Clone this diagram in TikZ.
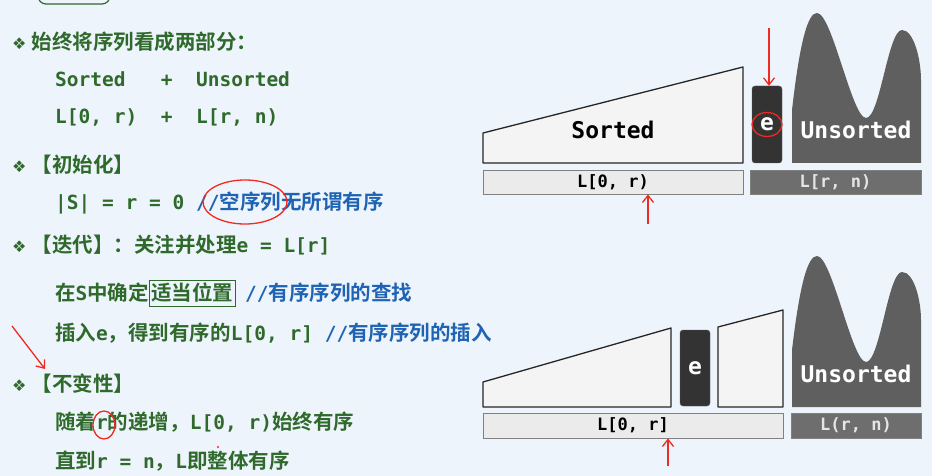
\documentclass[tikz,border=0pt]{standalone}
\usepackage{fontspec}
\newfontfamily\cjk{Noto Sans CJK SC}[BoldFont={Noto Sans CJK SC Bold}]
\newfontfamily\mono{DejaVu Sans Mono}
\newfontfamily\sym{DejaVu Sans}
\usetikzlibrary{positioning, arrows.meta}
\definecolor{bg}{HTML}{EEF4FB}
\definecolor{txtgreen}{HTML}{2F6A2C}
\definecolor{txtblue}{HTML}{1F64B4}
\definecolor{darkbox}{HTML}{333333}
\definecolor{unsorted}{HTML}{5F5F5F}
\definecolor{lightfill}{HTML}{F4F4F4}
\definecolor{barlight}{HTML}{EBEBEB}
\definecolor{bardark}{HTML}{6E6E6E}
\definecolor{pen}{HTML}{F02A20}
\newcommand{\m}[1]{{\mono\bfseries\fontsize{19.5}{20}\selectfont #1}}
\newcommand{\bul}{{\sym\bfseries\fontsize{16}{16}\selectfont ❖}\kern5pt}
\newcommand{\cmt}[1]{{\color{txtblue}#1}}
\begin{document}
\begin{tikzpicture}[x=1pt, y=-1pt, >=stealth]
	\tikzstyle{line}=[anchor=west, inner sep=0pt, text=txtgreen, font=\cjk\bfseries\fontsize{20.5}{22}\selectfont]
	\tikzstyle{block}=[draw=black!85, line width=1.3pt, fill=lightfill, line join=round]
	\tikzstyle{ebox}=[rounded corners=3pt, fill=darkbox, draw=darkbox!80]
	\tikzstyle{hill}=[fill=unsorted]
	\tikzstyle{bar}=[draw=black!50, line width=0.8pt, font=\mono\bfseries\fontsize{17}{17}\selectfont]
	\tikzstyle{big}=[font=\mono\bfseries\fontsize{23}{23}\selectfont]
	\tikzstyle{penmark}=[draw=pen, line width=1.3pt, -{Straight Barb[length=7pt,width=11pt]}]

	\fill[bg] (0,0) rectangle (932,476);
	\useasboundingbox (0,0) rectangle (932,476);
	\draw[txtgreen, line width=1.2pt, rounded corners=8pt] (38,-12) -- (38,4) -- (110,4) -- (110,-12);

	% left text
	\node[line] (l1) at (12,42) {\bul 始终将序列看成两部分：};
	\node[line] (l2) at (55,79) {\m{Sorted~~~+~~Unsorted}};
	\node[line] (l3) at (55,117) {\m{L[0,~r)~~+~~L[r,~n)}};
	\node[line] (l4) at (12,165) {\bul 【初始化】};
	\node[line] (l5) at (55,203) {\m{|S|~=~r~=~0~}\cmt{\m{//}空序列无所谓有序}};
	\node[line] (l6) at (12,245) {\bul 【迭代】：关注并处理\m{e~=~L[r]}};
	\node[line] (l7) at (55,293) {在\m{S}中确定\fbox{\kern-1pt 适当位置\kern-1pt}~~\cmt{\m{//}有序序列的查找}};
	\node[line] (l8) at (55,333) {插入\m{e}，得到有序的\m{L[0,~r]~}\cmt{\m{//}有序序列的插入}};
	\node[line] (l9) at (12,384) {\bul 【不变性】};
	\node[line] (l10) at (55,422) {随着\m{r}的递增，\m{L[0,~r)}始终有序};
	\node[line] (l11) at (55,461) {直到\m{r~=~n}，\m{L}即整体有序};

	% top diagram
	\draw[block] (483,163) -- (483,133) -- (743,67) -- (743,163) -- cycle;
	\node[big] (sorted) at (613,130) {Sorted};
	\node[ebox, big, minimum width=30pt, minimum height=77pt, text=white] (e1) at (767,124.5) {e};
	\fill[hill] (792,163) -- (792,110) .. controls (800,40) and (808,13) .. (817,13) .. controls (832,13) and (852,118) .. (866,118) .. controls (880,118) and (888,30) .. (902,30) .. controls (914,30) and (921,60) .. (921,80) -- (921,163) -- cycle;
	\node[big, text=white] (uns1) at (856,130) {Unsorted};
	\node[bar, fill=barlight, minimum width=260pt, minimum height=24pt] (bar1) at (613,182) {L[0, r)};
	\node[bar, fill=bardark, text=white!90!black, minimum width=171pt, minimum height=24pt] (bar2) at (835.5,182) {L[r, n)};

	% bottom diagram
	\draw[block] (483,407) -- (483,382) -- (671,328) -- (671,407) -- cycle;
	\node[ebox, big, minimum width=30pt, minimum height=76pt, text=white] (e2) at (695,368) {e};
	\draw[block] (718,407) -- (718,327) -- (783,310) -- (783,407) -- cycle;
	\fill[hill] (792,407) -- (792,350) .. controls (800,282) and (808,256) .. (817,256) .. controls (832,256) and (852,362) .. (866,362) .. controls (880,362) and (888,272) .. (902,272) .. controls (914,272) and (921,300) .. (921,320) -- (921,407) -- cycle;
	\node[big, text=white] (uns2) at (856,374) {Unsorted};
	\node[bar, fill=barlight, minimum width=300pt, minimum height=25pt] (bar3) at (633,425.5) {L[0, r]};
	\node[bar, fill=bardark, text=white!90!black, minimum width=130pt, minimum height=25pt] (bar4) at (856,425.5) {L(r, n)};

	% red pen marks
	\coordinate (p1) at (769,28);
	\coordinate (p2) at (648,224);
	\coordinate (p3) at (668,466);
	\coordinate (p4) at (12,326);
	\draw[penmark] (p1) -- (e1.north -| p1);
	\draw[penmark] (p2) -- (bar1.south -| p2);
	\draw[penmark] (p3) -- (bar3.south -| p3);
	\draw[penmark] (p4) -- ++(33,43);
	\draw[pen, line width=1.3pt] (e1.center) ellipse (15pt and 12pt);
	\draw[pen, line width=1.3pt] (245,202) ellipse (42pt and 22pt);
	\draw[pen, line width=1.3pt] (104,425) ellipse (11pt and 14pt);
	\fill[pen] (218,447) circle (1.2pt);
\end{tikzpicture}
\end{document}
